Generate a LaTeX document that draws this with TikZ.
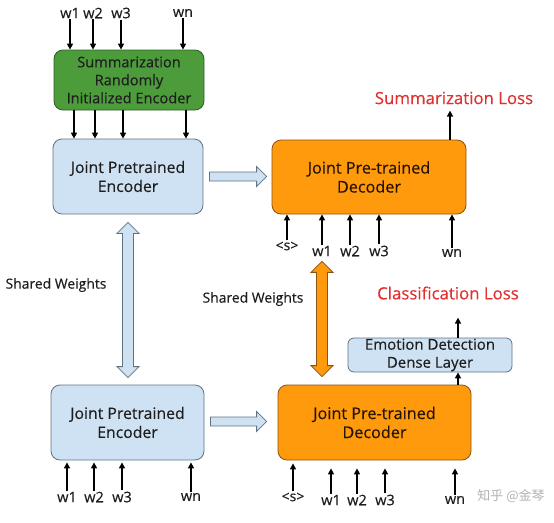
\documentclass[tikz,border=0pt]{standalone}
\usepackage{fontspec}
\setmainfont{Open Sans}[FakeBold=0.35]
\newfontfamily\cjkfont{Noto Sans CJK SC}
\usetikzlibrary{arrows.meta,calc}
\definecolor{greenfill}{HTML}{4C9C3C}
\definecolor{greenline}{HTML}{2E5E22}
\definecolor{bluefill}{HTML}{CFE2F3}
\definecolor{blueline}{HTML}{5F7383}
\definecolor{orangefill}{HTML}{FF9A0C}
\definecolor{orangeline}{HTML}{8A5210}
\definecolor{losscol}{HTML}{E0302E}
\definecolor{txt}{HTML}{1E1E1E}
\newcommand{\hollowH}[4]{% from, to, fill, line
  \draw[#4,line width=0.8pt,fill=#3,line join=miter] let \p1=(#1), \p2=(#2) in
    (\x1,\y1+4.5pt) -- (\x2-10pt,\y1+4.5pt) -- (\x2-10pt,\y1+10pt) -- (\x2,\y1)
    -- (\x2-10pt,\y1-10pt) -- (\x2-10pt,\y1-4.5pt) -- (\x1,\y1-4.5pt) -- cycle;}
\newcommand{\hollowV}[5]{% top, bottom, fill, line, shaft half width
  \draw[#4,line width=0.8pt,fill=#3,line join=miter] let \p1=(#1), \p2=(#2) in
    (\x1,\y1) -- (\x1+11pt,\y1-11pt) -- (\x1+#5,\y1-11pt) -- (\x1+#5,\y2+11pt)
    -- (\x1+11pt,\y2+11pt) -- (\x1,\y2) -- (\x1-11pt,\y2+11pt) -- (\x1-#5,\y2+11pt)
    -- (\x1-#5,\y1-11pt) -- (\x1-11pt,\y1-11pt) -- cycle;}
\begin{document}
\begin{tikzpicture}[x=1pt,y=-1pt,
  box/.style={draw,rounded corners=9pt,line width=0.8pt,align=center,inner sep=0pt,
    font=\fontsize{15.8}{19}\selectfont,text=txt},
  encbox/.style={box,fill=bluefill,draw=blueline,minimum width=150pt,minimum height=75pt},
  decbox/.style={box,fill=orangefill,draw=orangeline,minimum width=194pt,minimum height=74pt,text=black!85!orange},
  lab/.style={font=\fontsize{14.5}{16}\selectfont,inner sep=1pt,text=txt},
  slab/.style={font=\fontsize{14}{15}\selectfont,inner sep=1pt,text=txt},
  loss/.style={font=\fontsize{16.8}{19}\selectfont,text=losscol,inner sep=1pt},
  arr/.style={-{Triangle[length=6pt,width=6pt]},line width=1.5pt,black}]
\useasboundingbox (0,0) rectangle (554,522);

% top encoder stack
\node[box,fill=greenfill,draw=greenline,minimum width=150pt,minimum height=60pt,
  font=\fontsize{14.6}{18}\selectfont] (green) at (129,80) {Summarization\\Randomly\\Initialized Encoder};
\node[encbox] (tenc) at (128,176.5) {Joint Pretrained\\Encoder};
\node[lab] (ti1) at (70,13) {w1};
\node[lab] (ti2) at (93,13) {w2};
\node[lab] (ti3) at (121,13) {w3};
\node[lab] (tin) at (183,13) {wn};
\foreach \n in {ti1,ti2,ti3,tin} \draw[arr] (\n.south) -- (\n |- green.north);
\foreach \x in {74,95,123,186} \draw[arr] (green.south -| \x,0) -- (tenc.north -| \x,0);

% top decoder
\node[decbox,font=\fontsize{16.2}{19}\selectfont] (tdec) at (369,177) {Joint Pre-trained\\Decoder};
\hollowH{$(tenc.east)+(6,0)$}{$(tdec.west)+(-5,0)$}{bluefill}{blueline}
\node[loss] (sloss) at (454,98) {Summarization Loss};
\draw[arr] (tdec.north -| 450,0) -- ++(0,-29);
\node[slab] (ds) at (287,246) {<s>};
\node[lab] (dw1) at (322,251) {w1};
\node[lab] (dw2) at (350,251) {w2};
\node[lab] (dw3) at (379,251) {w3};
\node[lab] (dwn) at (452,253) {wn};
\draw[arr] (ds.north) -- (ds |- tdec.south);
\foreach \n in {dw1,dw2,dw3,dwn} \draw[arr] (\n.north) -- (\n |- tdec.south);

% bottom
\node[encbox,minimum width=153pt] (benc) at (127.5,422.5) {Joint Pretrained\\Encoder};
\node[decbox,minimum width=193pt,minimum height=75pt,font=\fontsize{16.2}{19}\selectfont] (bdec) at (374.5,422.5) {Joint Pre-trained\\Decoder};
\hollowH{$(benc.east)+(6,-1)$}{$(bdec.west)+(-11,-1)$}{bluefill}{blueline}

\node[lab] (bw1) at (67,497) {w1};
\node[lab] (bw2) at (94,497) {w2};
\node[lab] (bw3) at (122,497) {w3};
\node[lab] (bwn) at (191,497) {wn};
\foreach \n in {bw1,bw2,bw3,bwn} \draw[arr] (\n.north) -- ($(\n |- benc.south)+(0,2)$);

\node[slab] (bs) at (293,497) {<s>};
\node[lab] (bd1) at (331,500) {w1};
\node[lab] (bd2) at (357,500) {w2};
\node[lab] (bd3) at (385,500) {w3};
\node[lab] (bdn) at (455,500) {wn};
\draw[arr] (bs.north) -- ($(bs |- bdec.south)+(0,3)$);
\foreach \n in {bd1,bd2,bd3,bdn} \draw[arr] (\n.north) -- ($(\n |- bdec.south)+(0,8)$);

% shared weights
\hollowV{$(tenc.south)+(0,8)$}{$(benc.north)+(0.5,-7)$}{bluefill}{blueline}{5.5pt}
\node[lab,font=\fontsize{13.9}{16}\selectfont] (sw1) at (56,285) {Shared Weights};
\hollowV{$(dw1.south)+(0,4)$}{$(bdec.north -| dw1)+(0,-8)$}{orangefill}{orangeline}{5.5pt}
\node[lab,font=\fontsize{13.9}{16}\selectfont] (sw2) at (253,299) {Shared Weights};

% emotion
\node[box,fill=bluefill,draw=blueline,rounded corners=6pt,minimum width=164pt,minimum height=34pt,
  font=\fontsize{15}{18}\selectfont] (emo) at (430,355) {Emotion Detection\\Dense Layer};
\node[loss] (closs) at (448,293) {Classification Loss};
\draw[arr] (bdec.north -| 458,0) -- (emo.south -| 458,0);
\draw[arr] (emo.north -| 458,0) -- ++(0,-20);

% watermark
\node[text=black!30,font=\cjkfont\fontsize{13}{15}\selectfont,inner sep=0pt] (wm) at (511,496) {知乎 @金琴};
\end{tikzpicture}
\end{document}
